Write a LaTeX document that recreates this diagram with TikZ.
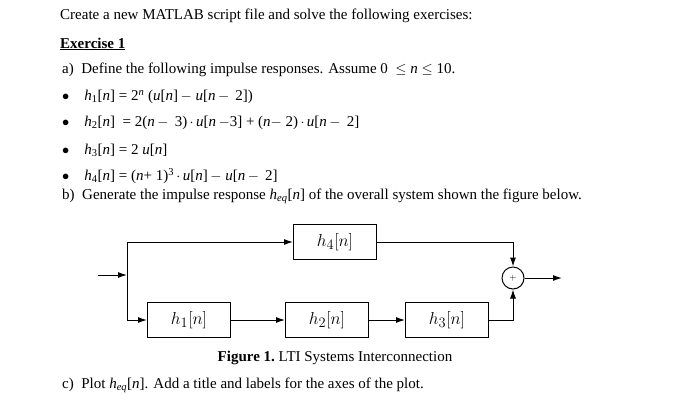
\documentclass[tikz,border=0pt]{standalone}
\usepackage{fontspec}
\setmainfont{Liberation Serif}
\usetikzlibrary{arrows.meta}
\newcommand{\hh}[1]{\textit{h}\textsubscript{#1}[\textit{n}]}
\newcommand{\vn}{\textit{n}}
\newcommand{\vu}{\textit{u}}
\begin{document}
\begin{tikzpicture}[x=1pt,y=-1pt,
  txt/.style={anchor=west,inner sep=0,font=\fontsize{15}{17}\selectfont},
  blk/.style={draw,line width=1pt,minimum width=83pt,minimum height=35pt,font=\fontsize{19}{21}\selectfont},
  ln/.style={line width=1pt,-{Latex[length=9pt,width=6pt]}}]
\useasboundingbox (0,0) rectangle (700,408);
\node[txt] (t1) at (60,16) {Create a new MATLAB script file and solve the following exercises:};
\node[txt] (t2) at (60,44) {\textbf{\underline{Exercise 1}}};
\node[txt] (t3) at (62,70) {a)\enspace Define the following impulse responses. Assume 0 \ $\le$ \vn\ $\le$ 10.};
\node[txt] (b1) at (62,97) {$\bullet$\quad \hh{1} = 2\textsuperscript{\vn} (\vu[\vn]\,$-$ \vu[\vn \,$-$\, 2])};
\node[txt] (b2) at (62,123) {$\bullet$\quad \hh{2} \ = 2(\vn \,$-$\, 3)$\,\cdot\,$\vu[\vn \,$-$3] + (\vn $-$ 2)$\,\cdot\,$\vu[\vn \,$-$\, 2]};
\node[txt] (b3) at (62,150) {$\bullet$\quad \hh{3} = 2 \vu[\vn]};
\node[txt] (b4) at (62,176) {$\bullet$\quad \hh{4} = (\vn + 1)\textsuperscript{3}$\,\cdot\,$\vu[\vn]\,$-$ \vu[\vn \,$-$\, 2]};
\node[txt] (t4) at (62,196) {b)\enspace Generate the impulse response \textit{h}\textsubscript{\textit{eq}}[\textit{n}] of the overall system shown the figure below.};
\node[blk] (h4) at (335,242) {$h_4[n]$};
\node[blk] (h1) at (189,320) {$h_1[n]$};
\node[blk] (h2) at (327,320) {$h_2[n]$};
\node[blk] (h3) at (447,320) {$h_3[n]$};
\node[draw,line width=1pt,circle,minimum size=22pt,inner sep=0,font=\small] (s) at (513,278) {$+$};
\coordinate (in) at (98,275);
\coordinate (j) at (127,275);
\coordinate (out) at (562,278);
\draw[ln] (in) -- (j);
\draw[ln] (j) |- (h4.west);
\draw[ln] (j) |- (h1.west);
\draw[ln] (h1) -- (h2);
\draw[ln] (h2) -- (h3);
\draw[ln] (h4.east) -| (s.north);
\draw[ln] (h3.east) -| (s.south);
\draw[ln] (s) -- (out);
\node[font=\fontsize{15}{17}\selectfont\bfseries,inner sep=0] (cap) at (335,358) {Figure 1.\ \mdseries LTI Systems Interconnection};
\node[txt] (t5) at (62,385) {c)\enspace Plot \textit{h}\textsubscript{\textit{eq}}[\textit{n}]. Add a title and labels for the axes of the plot.};
\end{tikzpicture}
\end{document}
